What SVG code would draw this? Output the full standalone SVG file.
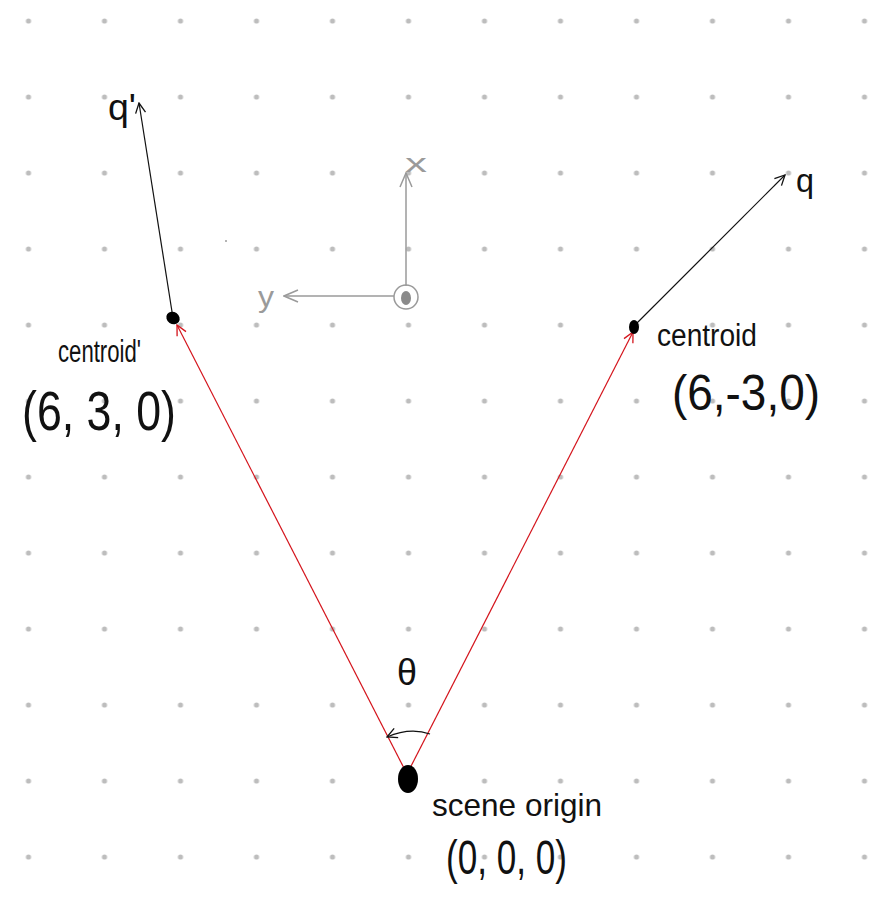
<svg xmlns="http://www.w3.org/2000/svg" width="891" height="898" viewBox="0 0 891 898">
<defs>
<pattern id="dots" x="0" y="0" width="76" height="76" patternUnits="userSpaceOnUse" patternTransform="translate(28.5 21)">
<circle cx="0" cy="0" r="2.6" fill="#bdbdbd"/><circle cx="76" cy="0" r="2.6" fill="#bdbdbd"/><circle cx="0" cy="76" r="2.6" fill="#bdbdbd"/><circle cx="76" cy="76" r="2.6" fill="#bdbdbd"/>
</pattern>
<marker id="ab" viewBox="0 0 12 12" refX="11" refY="6" markerWidth="12" markerHeight="12" markerUnits="userSpaceOnUse" orient="auto"><path d="M1,1 L11,6 L1,11" fill="none" stroke="#111" stroke-width="1.3"/></marker>
<marker id="ar" viewBox="0 0 12 12" refX="11" refY="6" markerWidth="12" markerHeight="12" markerUnits="userSpaceOnUse" orient="auto"><path d="M1,1 L11,6 L1,11" fill="none" stroke="#d4141c" stroke-width="1.3"/></marker>
<marker id="ag" viewBox="0 0 16 16" refX="15" refY="8" markerWidth="16" markerHeight="16" markerUnits="userSpaceOnUse" orient="auto"><path d="M1,2 L15,8 L1,14" fill="none" stroke="#9a9a9a" stroke-width="1.5"/></marker>
</defs>
<style>
.t{font-family:"Liberation Sans",Arial,sans-serif;fill:#111}
.g{font-family:"Liberation Sans",Arial,sans-serif;fill:#9a9a9a}
</style>
<rect width="891" height="898" fill="#fff"/>
<rect x="0" y="0" width="891" height="898" fill="url(#dots)"/>
<circle cx="226" cy="241" r="0.8" fill="#555"/>
<g id="connectors" fill="none">
<line x1="173" y1="318" x2="139" y2="103" stroke="#111" stroke-width="1.2" marker-end="url(#ab)"/>
<line x1="633" y1="327" x2="785" y2="175" stroke="#111" stroke-width="1.2" marker-end="url(#ab)"/>
<line x1="407" y1="774" x2="177" y2="325" stroke="#d4141c" stroke-width="1.2" marker-end="url(#ar)"/>
<line x1="407" y1="774" x2="633" y2="332" stroke="#d4141c" stroke-width="1.2" marker-end="url(#ar)"/>
<path d="M430,734 Q410,727 387,737" stroke="#111" stroke-width="1.3" marker-end="url(#ab)"/>
</g>
<g id="axes">
<line x1="406" y1="286" x2="406" y2="173" stroke="#9a9a9a" stroke-width="1.5" marker-end="url(#ag)"/>
<line x1="394" y1="296" x2="284" y2="296" stroke="#9a9a9a" stroke-width="1.5" marker-end="url(#ag)"/>
<circle cx="406" cy="297" r="12" fill="none" stroke="#9a9a9a" stroke-width="1.5"/>
<ellipse cx="406" cy="298" rx="5" ry="7" fill="#8a8a8a"/>
<text class="g" x="405" y="172" font-size="26" textLength="22" lengthAdjust="spacingAndGlyphs">x</text>
<text class="g" x="258" y="307" font-size="30" textLength="16" lengthAdjust="spacingAndGlyphs">y</text>
</g>
<g id="q-prime">
<text class="t" x="108" y="120" font-size="36" textLength="28" lengthAdjust="spacingAndGlyphs">q'</text>
</g>
<g id="q">
<text class="t" x="796" y="192" font-size="34" textLength="18" lengthAdjust="spacingAndGlyphs">q</text>
</g>
<g id="centroid-prime">
<ellipse cx="173" cy="318" rx="7" ry="6" transform="rotate(35 173 318)" fill="#000"/>
<text class="t" x="58" y="362" font-size="31" textLength="83" lengthAdjust="spacingAndGlyphs">centroid'</text>
<text class="t" x="22" y="430" font-size="56" textLength="154" lengthAdjust="spacingAndGlyphs">(6, 3, 0)</text>
</g>
<g id="centroid">
<ellipse cx="634" cy="327" rx="5" ry="7" fill="#000"/>
<text class="t" x="657" y="346" font-size="31" textLength="100" lengthAdjust="spacingAndGlyphs">centroid</text>
<text class="t" x="672" y="410" font-size="50" textLength="148" lengthAdjust="spacingAndGlyphs">(6,-3,0)</text>
</g>
<g id="theta">
<text class="t" x="397" y="685" font-size="36" textLength="20" lengthAdjust="spacingAndGlyphs">θ</text>
</g>
<g id="scene-origin">
<ellipse cx="408" cy="779" rx="10" ry="14" fill="#000"/>
<text class="t" x="432" y="816" font-size="32" textLength="170" lengthAdjust="spacingAndGlyphs">scene origin</text>
<text class="t" x="446" y="874" font-size="48" textLength="121" lengthAdjust="spacingAndGlyphs">(0, 0, 0)</text>
</g>
</svg>
